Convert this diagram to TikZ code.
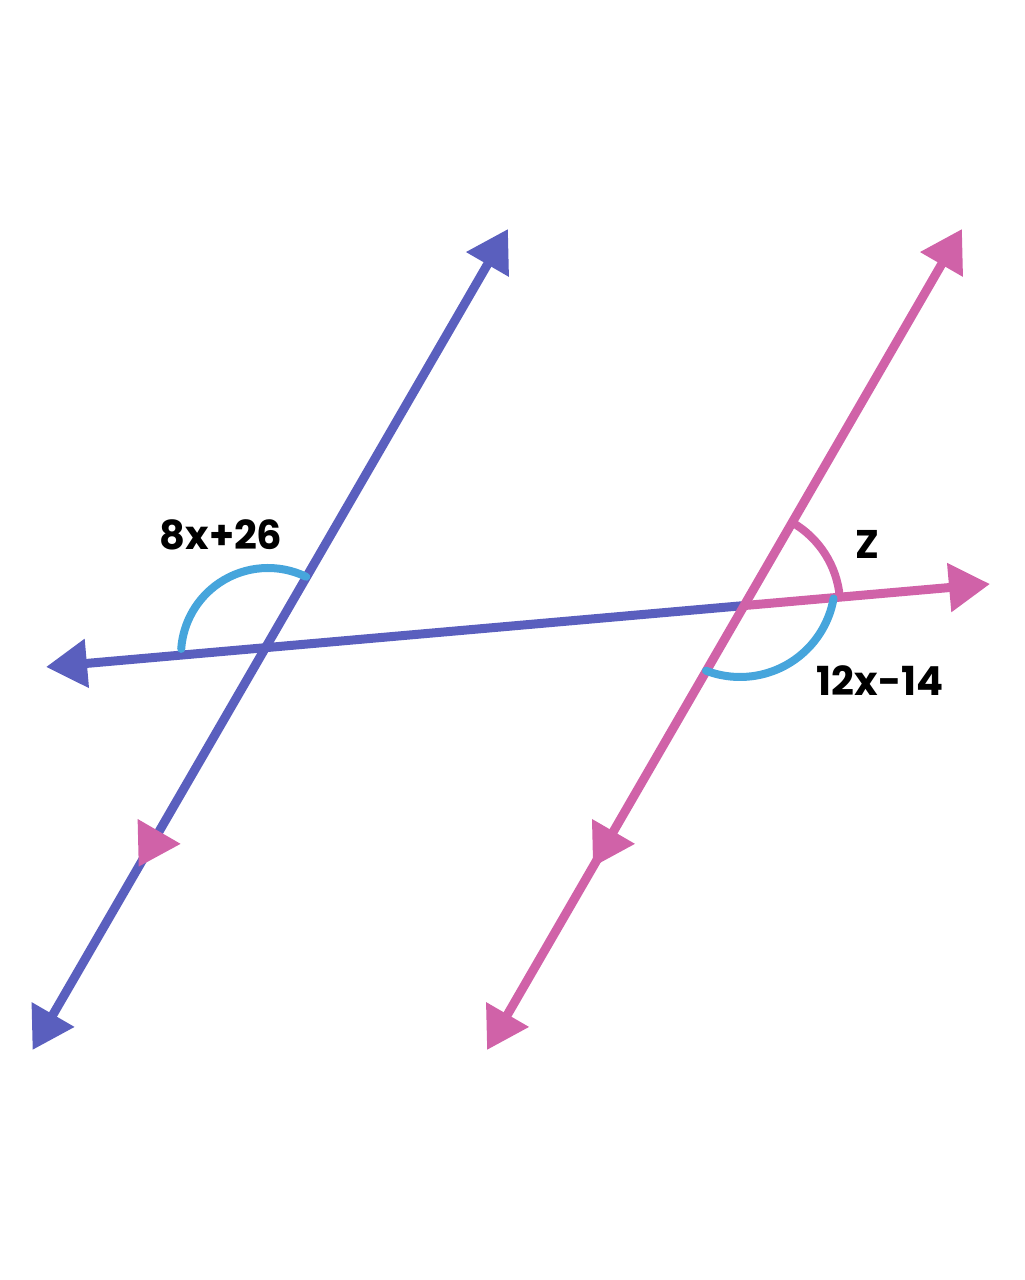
\documentclass[tikz,border=0pt]{standalone}
\usepackage{fontspec}
\usepackage{xcolor}
\usetikzlibrary{arrows.meta,decorations.markings}
\newfontfamily\labelfont{Poppins}
\definecolor{lineblue}{RGB}{90,95,190}
\definecolor{linepink}{RGB}{208,98,168}
\definecolor{arccyan}{RGB}{70,165,220}

\begin{document}
\begin{tikzpicture}[x=0.5pt, y=0.5pt,
		bline/.style={draw=lineblue, line width=4.5pt},
		pline/.style={draw=linepink, line width=4.5pt},
		cyanarc/.style={draw=arccyan, line width=4pt, line cap=round},
		pinkarc/.style={draw=linepink, line width=4pt, line cap=round},
		parmark/.style={postaction={decorate}, decoration={markings,
			mark=at position 0.223 with {\arrowreversed{Triangle[length=20.5pt, width=23.5pt, color=linepink, fill=linepink]}}}},
		lbl/.style={font=\labelfont\bfseries\fontsize{20}{24}\selectfont, inner sep=0pt}]
			\useasboundingbox (0,0) rectangle (1024,1280);

			\coordinate (L1s) at (32.5,230);
			\coordinate (L1e) at (508,1051);
			\coordinate (L2s) at (487,230);
			\coordinate (L2e) at (962,1051);
			\coordinate (Tl) at (46,613);
			\coordinate (Tr) at (990,696);
			\coordinate (A) at (intersection of L1s--L1e and Tl--Tr);
			\coordinate (B) at (intersection of L2s--L2e and Tl--Tr);
			\coordinate (Ac) at (268,625);
			\coordinate (Bc) at (740,698);

			% the two parallel lines and the transversal
			\draw[bline, parmark, {Triangle[length=20.5pt, width=23.5pt]}-{Triangle[length=20.5pt, width=23.5pt]}] (L1s) -- (L1e);
			\draw[bline, {Triangle[length=20.5pt, width=23.5pt]}-] (Tl) -- (B);
			\draw[pline, -{Triangle[length=20.5pt, width=23.5pt]}] (B) -- (Tr);
			\draw[pline, parmark, {Triangle[length=20.5pt, width=23.5pt]}-{Triangle[length=20.5pt, width=23.5pt]}] (L2s) -- (L2e);

			% angle marks
			\draw[cyanarc] ([shift={(64:87)}]Ac) arc[start angle=64, end angle=176, radius=87];
			\draw[pinkarc] ([shift={(5:96)}]B) arc[start angle=5, end angle=60, radius=96];
			\draw[cyanarc] ([shift={(-10:95)}]Bc) arc[start angle=-10, end angle=-111, radius=95];

			\node[lbl] (a1) at (221,745) {8x+26};
			\node[lbl] (z) at (867,736) {Z};
			\node[lbl] (a2) at (880,599) {12x-14};
		\end{tikzpicture}
\end{document}
